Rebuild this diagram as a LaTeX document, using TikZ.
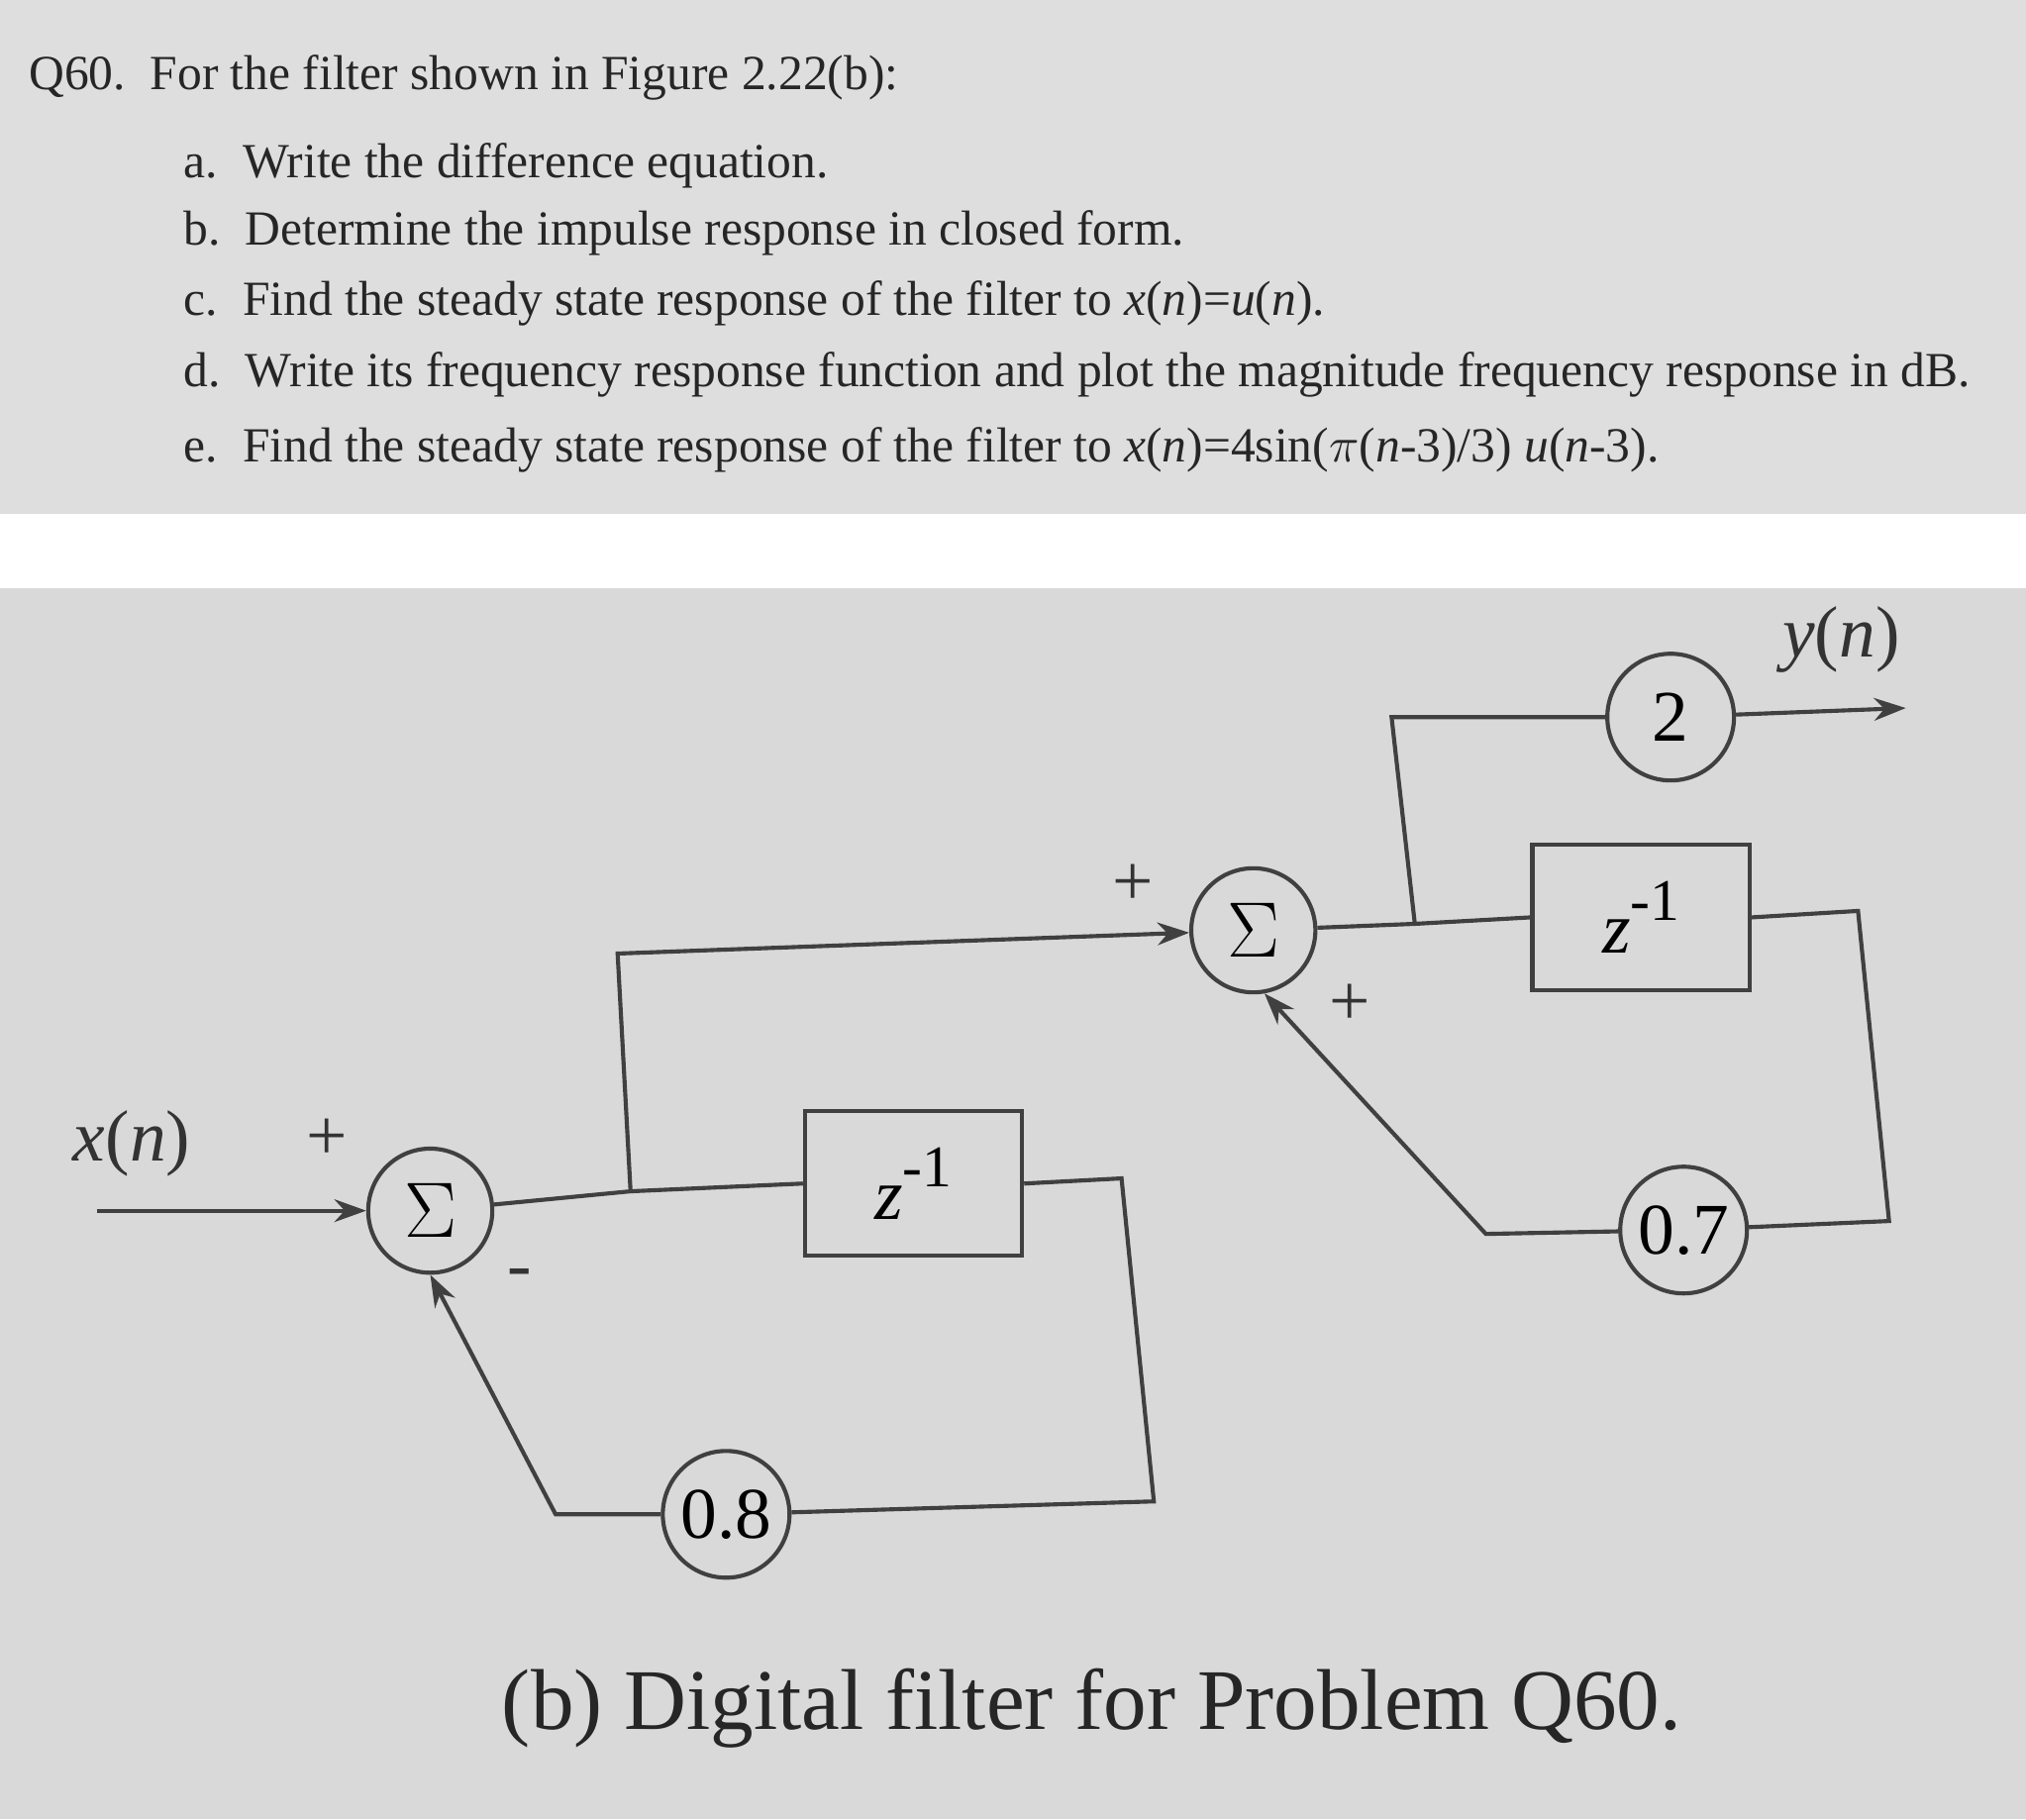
\documentclass[tikz,border=0pt]{standalone}
\usepackage{fontspec}
\setmainfont{Liberation Serif}
\usetikzlibrary{arrows.meta}
\begin{document}
\begin{tikzpicture}[x=0.01cm,y=-0.01cm,
  wire/.style={draw=black!75,line width=0.9pt},
  arr/.style={wire,-{Stealth[length=7pt,width=5pt]}},
  sumn/.style={circle,draw=black!75,line width=0.9pt,minimum size=0.96cm,inner sep=0pt,font=\fontsize{16}{19}\selectfont},
  gain/.style={circle,draw=black!75,line width=0.9pt,minimum size=0.98cm,inner sep=0pt,font=\fontsize{16}{19}\selectfont},
  delay/.style={draw=black!75,line width=0.9pt,minimum width=1.68cm,minimum height=1.12cm,font=\fontsize{16}{19}\selectfont},
  lab/.style={font=\fontsize{16}{19}\selectfont,text=black!80},
  qtext/.style={anchor=west,font=\fontsize{10.8}{12}\selectfont,text=black!85}]
\useasboundingbox (0,0) rectangle (1568,1408);
\fill[black!13] (0,0) rectangle (1568,398);
\fill[white] (0,398) rectangle (1568,455);
\fill[black!15] (0,455) rectangle (1568,1408);
\node[qtext] (q) at (10,60) {Q60.\ \ For the filter shown in Figure 2.22(b):};
\node[qtext] (qa) at (130,128) {a.\ \ Write the difference equation.};
\node[qtext] (qb) at (130,180) {b.\ \ Determine the impulse response in closed form.};
\node[qtext] (qc) at (130,235) {c.\ \ Find the steady state response of the filter to \textit{x}(\textit{n})=\textit{u}(\textit{n}).};
\node[qtext] (qd) at (130,290) {d.\ \ Write its frequency response function and plot the magnitude frequency response in dB.};
\node[qtext] (qe) at (130,348) {e.\ \ Find the steady state response of the filter to \textit{x}(\textit{n})=4sin($\pi$(\textit{n}-3)/3) \textit{u}(\textit{n}-3).};
% nodes
\node[sumn] (s1) at (333,937) {$\Sigma$};
\node[sumn] (s2) at (970,720) {$\Sigma$};
\node[delay] (d1) at (707,916) {\textit{z}\raisebox{0.45em}{\fontsize{13}{14}\selectfont -1}};
\node[delay] (d2) at (1270,710) {\textit{z}\raisebox{0.45em}{\fontsize{13}{14}\selectfont -1}};
\node[gain] (g8) at (562,1172) {0.8};
\node[gain] (g7) at (1303,952) {0.7};
\node[gain] (g2) at (1293,555) {2};
\node[lab] (xn) at (102,885) {\textit{x}(\textit{n})};
\node[lab] (yn) at (1425,495) {\textit{y}(\textit{n})};
\node[lab] (p1) at (253,882) {+};
\node[lab] (m1) at (402,990) {-};
\node[lab] (p2) at (877,685) {+};
\node[lab] (p3) at (1045,778) {+};
\node[font=\fontsize{19}{23}\selectfont,text=black!85] (cap) at (845,1322) {(b) Digital filter for Problem Q60.};
% coordinates
\coordinate (xin) at (75,937);
\coordinate (b1) at (488,922);
\coordinate (b1u) at (478,738);
\coordinate (o1) at (868,912);
\coordinate (o1d) at (893,1162);
\coordinate (g8l) at (430,1172);
\coordinate (b2) at (1095,715);
\coordinate (b2u) at (1077,555);
\coordinate (yout) at (1475,548);
\coordinate (o2) at (1438,705);
\coordinate (o2d) at (1462,945);
\coordinate (g7l) at (1150,955);
% wires
\draw[arr] (xin) -- (s1);
\draw[wire] (s1) -- (b1) -- (d1.west);
\draw[arr] (b1) -- (b1u) -- (s2);
\draw[wire] (d1.east) -- (o1) -- (o1d) -- (g8);
\draw[arr] (g8) -- (g8l) -- (s1.south);
\draw[wire] (s2) -- (b2) -- (d2.west);
\draw[wire] (b2) -- (b2u) -- (g2);
\draw[arr] (g2) -- (yout);
\draw[wire] (d2.east) -- (o2) -- (o2d) -- (g7);
\draw[arr] (g7) -- (g7l) -- (s2.-80);
\end{tikzpicture}
\end{document}
